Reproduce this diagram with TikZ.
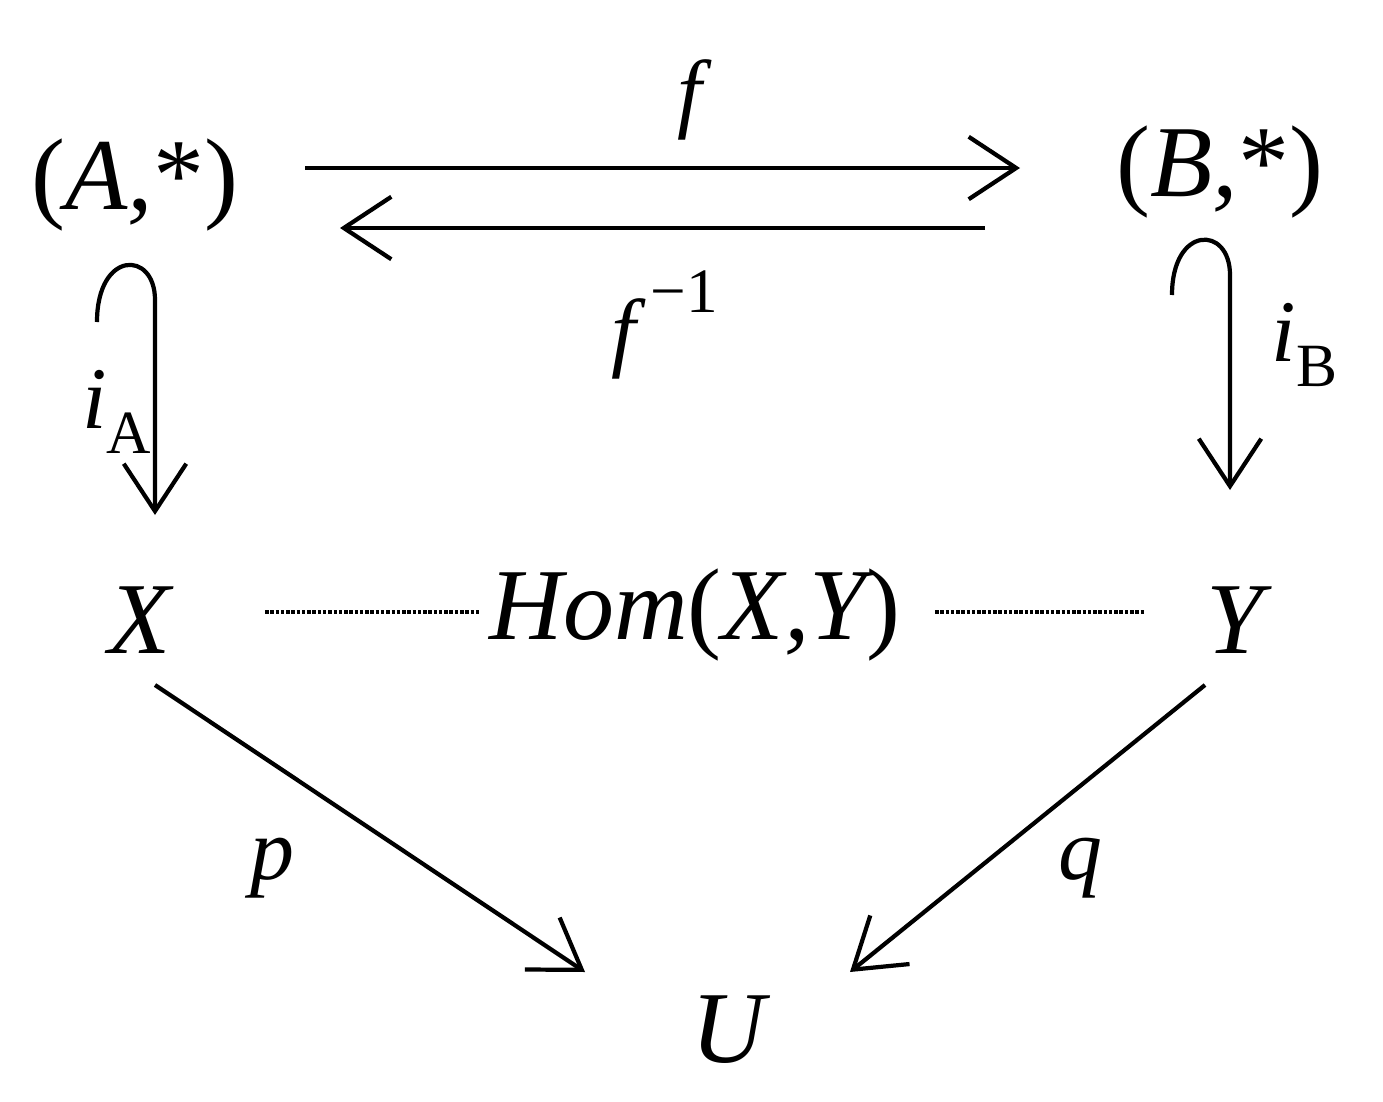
\documentclass[tikz,border=0pt]{standalone}
\usepackage{fontspec}
\setmainfont{Liberation Serif}
\usetikzlibrary{arrows.meta}
\begin{document}
\begin{tikzpicture}[x=0.02cm,y=-0.02cm,
  lbl/.style={font=\fontsize{58}{62}\selectfont\itshape, inner sep=0},
  sml/.style={font=\fontsize{50}{54}\selectfont\itshape, inner sep=0},
  arr/.style={line width=2.4pt,-{Straight Barb[length=0.95cm,width=1.25cm,line width=2.4pt]}},
  dot/.style={line width=2.2pt,dash pattern=on 2pt off 1pt}]
\useasboundingbox (0,0) rectangle (1383,1102);
\node[lbl] (A) at (135,185) {\upshape(\itshape A,\upshape*)};
\node[lbl] (B) at (1220,172) {\upshape(\itshape B,\upshape*)};
\node[lbl] (X) at (140,620) {X};
\node[lbl] (H) at (695,615) {Hom\upshape(\itshape X,Y\upshape)};
\node[lbl] (Y) at (1235,620) {Y};
\node[lbl] (U) at (728,1030) {U};
\coordinate (f1) at (305,168); \coordinate (f2) at (1020,168);
\coordinate (g1) at (985,228); \coordinate (g2) at (340,228);
\draw[arr] (f1) -- (f2);
\draw[arr] (g1) -- (g2);
\node[sml] (fl) at (690,100) {f};
\node[sml] (gl) at (665,325) {f\,\raisebox{0.55em}{\fontsize{36}{40}\selectfont\upshape −1}};
\coordinate (ha) at (97,322); \coordinate (ha2) at (155,515);
\draw[arr] (ha) .. controls (97,250) and (155,250) .. (155,300) -- (ha2);
\coordinate (hb) at (1172,295); \coordinate (hb2) at (1230,490);
\draw[arr] (hb) .. controls (1172,225) and (1230,225) .. (1230,275) -- (hb2);
\node[sml] (ia) at (117,412) {i\textsubscript{\upshape A}};
\node[sml] (ib) at (1305,345) {i\textsubscript{\upshape B}};
\coordinate (d1) at (265,612); \coordinate (d2) at (480,612);
\coordinate (d3) at (935,612); \coordinate (d4) at (1145,612);
\draw[dot] (d1) -- (d2);
\draw[dot] (d3) -- (d4);
\coordinate (p1) at (155,685); \coordinate (p2) at (585,972);
\coordinate (q1) at (1205,685); \coordinate (q2) at (850,972);
\draw[arr] (p1) -- (p2);
\draw[arr] (q1) -- (q2);
\node[sml] (pl) at (272,868) {p};
\node[sml] (ql) at (1080,868) {q};
\end{tikzpicture}
\end{document}
